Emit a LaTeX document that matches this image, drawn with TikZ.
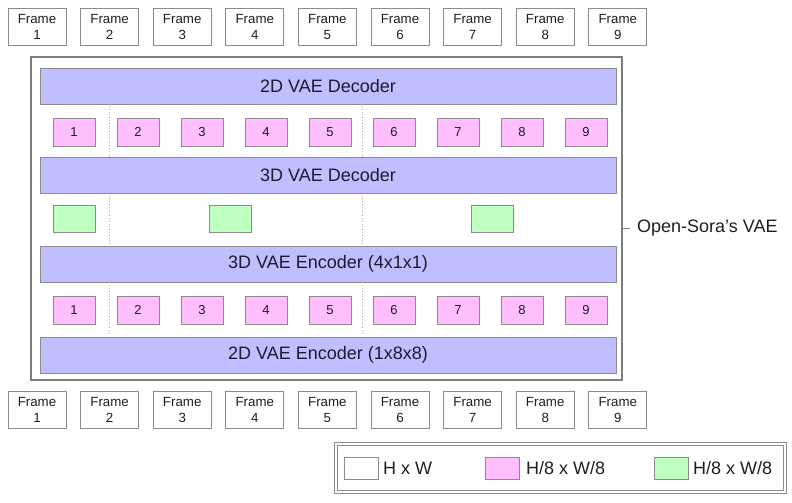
\documentclass[tikz,border=0pt]{standalone}
\usepackage{fontspec}
\setmainfont{Liberation Sans}
\definecolor{barc}{HTML}{BFBFFF}
\definecolor{pinkc}{HTML}{FFBFFF}
\definecolor{greenc}{HTML}{BFFFBF}
\definecolor{linec}{HTML}{8C8C8C}
\definecolor{txt}{HTML}{1E1E1E}
\definecolor{bartxt}{HTML}{1A1A30}
\begin{document}
\begin{tikzpicture}[x=1pt,y=-1pt,
  every node/.style={text=txt},
  framebox/.style={draw=linec,line width=0.8pt,fill=white,minimum width=58pt,minimum height=37pt,inner sep=0pt,align=center,font=\fontsize{13.3}{16}\selectfont},
  bar/.style={draw=linec,fill=barc,line width=0.8pt,minimum width=576pt,minimum height=36pt,inner sep=0pt,text=bartxt,font=\fontsize{18}{20}\selectfont},
  pinkbox/.style={draw=linec,fill=pinkc,line width=0.8pt,minimum width=42pt,minimum height=28pt,inner sep=0pt,text=bartxt,font=\fontsize{13}{15}\selectfont},
  greenbox/.style={draw=linec,fill=greenc,line width=0.8pt,minimum width=42pt,minimum height=27pt,inner sep=0pt},
  sepline/.style={draw=linec!70,dotted,line width=0.8pt},
  legtext/.style={anchor=west,inner sep=0pt,font=\fontsize{18}{20}\selectfont},
  legsq/.style={draw=linec,line width=0.8pt,minimum width=34pt,minimum height=22pt,inner sep=0pt,anchor=west}
]
\useasboundingbox (0,0) rectangle (792,503);
% outer VAE box
\node[draw=linec!90!black,line width=1.8pt,minimum width=591pt,minimum height=323pt,inner sep=0pt] (vae) at (326.5,218.5) {};
% dotted separators
\coordinate (s1t) at (109,106); \coordinate (s1b) at (109,335);
\coordinate (s2t) at (362.5,106); \coordinate (s2b) at (362.5,335);
\draw[sepline] (s1t) -- (s1b);
\draw[sepline] (s2t) -- (s2b);
% bars
\node[bar] (dec2) at (328,86) {2D VAE Decoder};
\node[bar] (dec3) at (328,175) {3D VAE Decoder};
\node[bar] (enc3) at (328,264) {3D VAE Encoder (4x1x1)};
\node[bar] (enc2) at (328,355) {2D VAE Encoder (1x8x8)};
% frames and latent boxes
\foreach \i in {1,...,9}{
  \pgfmathsetmacro{\fx}{37+72.6*(\i-1)}
  \pgfmathsetmacro{\px}{74+64*(\i-1)}
  \node[framebox] (ft\i) at (\fx,26.5) {Frame\\\i};
  \node[framebox] (fb\i) at (\fx,409.5) {Frame\\\i};
  \node[pinkbox] (pa\i) at (\px,132) {\i};
  \node[pinkbox] (pb\i) at (\px,310) {\i};
}
\node[greenbox] (g1) at (74,218.5) {};
\node[greenbox] (g2) at (230.5,218.5) {};
\node[greenbox] (g3) at (492,218.5) {};
% label
\node[anchor=west,inner sep=0pt,font=\fontsize{18}{20}\selectfont] (lbl) at (637,228) {Open-Sora’s VAE};
\draw[linec,line width=0.8pt,shorten >=7pt] (vae.east |- lbl.west) -- (lbl.west);
% legend
\draw[linec,line width=0.8pt] (334,442) rectangle (786,493);
\draw[linec,line width=0.8pt] (337,445) rectangle (783,490);
\node[legsq,fill=white] (lw) at (344,468) {};
\node[legtext] (lwt) at (383,468) {H x W};
\node[legsq,fill=pinkc] (lp) at (485,468) {};
\node[legtext] (lpt) at (526,468) {H/8 x W/8};
\node[legsq,fill=greenc] (lg) at (654,468) {};
\node[legtext] (lgt) at (693,468) {H/8 x W/8};
\end{tikzpicture}
\end{document}
